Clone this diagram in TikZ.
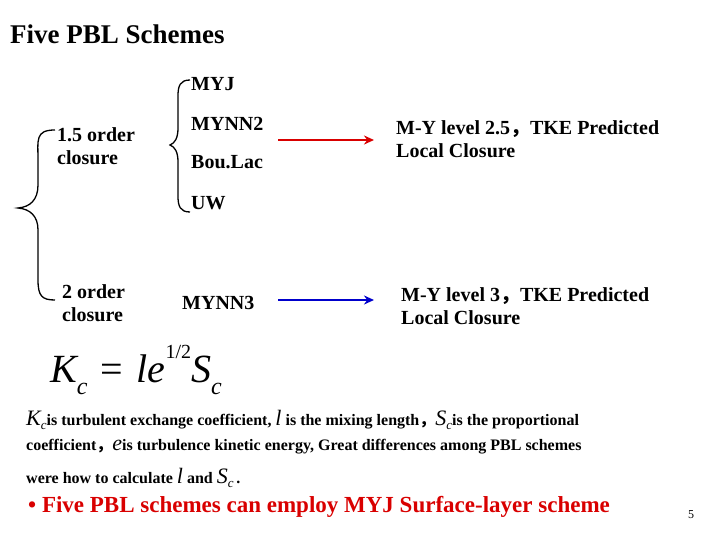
\documentclass[tikz,border=0pt]{standalone}
\usepackage{fontspec}
\usetikzlibrary{arrows.meta}
\setmainfont{Liberation Serif}
\newfontfamily\cjk{Noto Sans CJK SC}
% #1 big size, #2 small size
\newcommand{\myKc}[2]{{\fontsize{#1}{#1}\selectfont\mdseries\itshape K}\raisebox{-0.3em}{\fontsize{#2}{#2}\selectfont\mdseries\itshape c}}
\newcommand{\mySc}[2]{{\fontsize{#1}{#1}\selectfont\mdseries\itshape S}\raisebox{-0.3em}{\fontsize{#2}{#2}\selectfont\mdseries\itshape c}}
\newcommand{\myl}[1]{{\fontsize{#1}{#1}\selectfont\mdseries\itshape l}}
\newcommand{\mye}[1]{{\fontsize{#1}{#1}\selectfont\mdseries\itshape e}}
\begin{document}
\begin{tikzpicture}[x=1pt,y=-1pt,
  lab/.style={anchor=west,font=\bfseries\fontsize{20}{23}\selectfont,align=left,inner sep=0},
  brace/.style={line width=1.3pt},
  arr/.style={line width=2pt,-{Stealth[length=10pt,width=9pt]}}]
\useasboundingbox (0,0) rectangle (720,540);
\fill[white] (0,0) rectangle (720,540);
\node[lab,font=\bfseries\fontsize{27}{30}\selectfont] (title) at (10,34) {Five PBL Schemes};
\node[lab] (o15) at (57,146) {1.5 order\\closure};
\node[lab] (o2) at (62,303) {2 order\\closure};
\node[lab] (myj) at (191,84) {MYJ};
\node[lab] (mynn2) at (191,124) {MYNN2};
\node[lab] (boulac) at (191,162) {Bou.Lac};
\node[lab] (uw) at (191,203) {UW};
\node[lab] (mynn3) at (182,303) {MYNN3};
\node[lab] (r1) at (396,139) {M-Y level 2.5{\cjk ，}TKE Predicted\\Local Closure};
\node[lab] (r2) at (401,306) {M-Y level 3{\cjk ，}TKE Predicted\\Local Closure};
\draw[brace] (55,130) .. controls (35,130) and (38,140) .. (38,160) -- (38,185)
  .. controls (38,200) and (30,207) .. (18,208)
  .. controls (30,209) and (38,216) .. (38,230) -- (38,280)
  .. controls (38,296) and (42,300) .. (55,300);
\draw[brace] (190,80) .. controls (180,80) and (178,86) .. (178,96) -- (178,128)
  .. controls (178,138) and (175,143) .. (170,145)
  .. controls (175,147) and (178,152) .. (178,162) -- (178,196)
  .. controls (178,206) and (180,212) .. (190,212);
\coordinate (a1) at (278,140); \coordinate (a2) at (374,140);
\coordinate (b1) at (278,300); \coordinate (b2) at (374,300);
\draw[arr,red!85!black] (a1) -- (a2);
\draw[arr,blue!80!black] (b1) -- (b2);
\node[lab,font=\fontsize{40}{44}\selectfont] (eq) at (50,370) {\myKc{40}{24}\,\,{=}\,\,\myl{40}\mye{40}\raisebox{0.6em}{\fontsize{20}{20}\selectfont 1/2}\mySc{40}{24}};
\node[lab,font=\bfseries\fontsize{16}{18}\selectfont] (t1) at (26,420) {\myKc{22}{13}is turbulent exchange coefficient, \myl{22} is the mixing length{\cjk ，}\mySc{22}{13}is the proportional};
\node[lab,font=\bfseries\fontsize{16}{18}\selectfont] (t2) at (26,447) {coefficient{\cjk ，}\mye{22}is turbulence kinetic energy, Great differences among PBL schemes};
\node[lab,font=\bfseries\fontsize{16}{18}\selectfont] (t3) at (26,478) {were how to calculate \myl{22} and \mySc{22}{13}\,.};
\node[lab,font=\bfseries\fontsize{23}{26}\selectfont,text=red!85!black] (t4) at (28,507) {\textbullet\ Five PBL schemes can employ MYJ Surface-layer scheme};
\node[lab,font=\fontsize{12}{12}\selectfont] (pg) at (688,515) {5};
\end{tikzpicture}
\end{document}
